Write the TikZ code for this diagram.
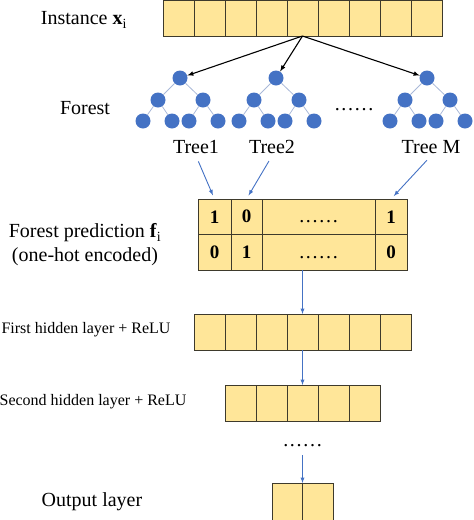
\documentclass[tikz,border=0pt]{standalone}
\usepackage{fontspec}
\setmainfont{Liberation Serif}
\usetikzlibrary{arrows, positioning, calc}

\definecolor{cellfill}{HTML}{FFE699}
\definecolor{cellline}{HTML}{3E3A2C}
\definecolor{treeblue}{HTML}{4472C4}
\definecolor{edgegray}{HTML}{A9B8D8}

\tikzset{
    cell/.style={draw=cellline, fill=cellfill, line width=1pt, minimum width=31pt, minimum height=36pt, inner sep=0pt, outer sep=0pt},
    tnode/.style={circle, fill=treeblue, minimum size=15pt, inner sep=0pt},
    tedge/.style={edgegray, line width=0.8pt},
    lab/.style={font=\fontsize{20}{24}\selectfont, inner sep=2pt},
    smalllab/.style={font=\fontsize{16}{19}\selectfont, inner sep=2pt},
    digit/.style={font=\fontsize{19}{22}\selectfont\bfseries},
    flow/.style={treeblue, line width=0.9pt, -latex},
    feed/.style={black, line width=1.1pt, -latex}
}

\newcommand{\spdots}{.\kern1.7pt.\kern1.7pt.\kern1.7pt.\kern1.7pt.\kern1.7pt.}

\newcommand{\foresttree}[2]{%
    \node[tnode] (#1r) at (#2,78) {};
    \node[tnode] (#1a) at (#2-22,100) {};
    \node[tnode] (#1b) at (#2+23,100) {};
    \node[tnode] (#1aa) at (#2-37,121) {};
    \node[tnode] (#1ab) at (#2-8,121) {};
    \node[tnode] (#1ba) at (#2+9,121) {};
    \node[tnode] (#1bb) at (#2+38,121) {};
    \draw[tedge] (#1r) -- (#1a) (#1r) -- (#1b) (#1a) -- (#1aa) (#1a) -- (#1ab) (#1b) -- (#1ba) (#1b) -- (#1bb);
}

\begin{document}
\begin{tikzpicture}[x=1pt, y=-1pt]
    \useasboundingbox (0,0) rectangle (474,520);

    \node[lab] (inlab) at (84,20) {Instance \textbf{x}\textsubscript{i}};
    \foreach \i in {1,...,9}
        \node[cell] (in\i) at ({163+31*\i-15.5},18) {};

    \node[lab] (forestlab) at (85,108) {Forest};
    \foresttree{ta}{180}
    \foresttree{tb}{276}
    \foresttree{tm}{427}
    \node[lab] (treedots) at (354,110) {\spdots};
    \node[lab] (tla) at (196,147) {Tree1};
    \node[lab] (tlb) at (272,147) {Tree2};
    \node[lab] (tlm) at (431,147) {Tree M};

    \draw[feed] (in5.south) -- (tar);
    \draw[feed] (in5.south) -- (tbr);
    \draw[feed] (in5.south) -- (tmr);

    \node[lab, align=center] (fplab) at (85,245) {Forest prediction \textbf{f}\textsubscript{i}\\(one-hot encoded)};
    \node[cell, minimum width=33pt, minimum height=35.5pt, digit] (fp11) at (214.5,216.75) {1};
    \node[cell, minimum height=35.5pt, digit] (fp12) at (246.5,216.75) {0};
    \node[cell, minimum width=113pt, minimum height=35.5pt, lab] (fp13) at (318.5,216.75) {\rule{0pt}{12pt}\spdots};
    \node[cell, minimum width=32pt, minimum height=35.5pt, digit] (fp14) at (391,216.75) {1};
    \node[cell, minimum width=33pt, minimum height=35.5pt, digit] (fp21) at (214.5,252.25) {0};
    \node[cell, minimum height=35.5pt, digit] (fp22) at (246.5,252.25) {1};
    \node[cell, minimum width=113pt, minimum height=35.5pt, lab] (fp23) at (318.5,252.25) {\rule{0pt}{12pt}\spdots};
    \node[cell, minimum width=32pt, minimum height=35.5pt, digit] (fp24) at (391,252.25) {0};

    \draw[flow, shorten <=6pt, shorten >=4pt] (tla.south) -- (fp11.north);
    \draw[flow, shorten <=6pt, shorten >=4pt] (tlb.south) -- (fp12.north);
    \draw[flow, shorten <=6pt, shorten >=4pt] (tlm.south) -- (fp14.north);

    \node[smalllab] (h1lab) at (86,330) {First hidden layer + ReLU};
    \foreach \i in {1,...,7}
        \node[cell] (h1\i) at ({194+31*\i-15.5},332) {};
    \node[smalllab] (h2lab) at (93,402) {Second hidden layer + ReLU};
    \foreach \i in {1,...,5}
        \node[cell] (h2\i) at ({225+31*\i-15.5},403) {};

    \draw[flow] (fp23.south -| h14) -- (h14.north);
    \draw[flow] (h14.south) -- (h23.north);

    \node[lab] (vdots) at (302.5,446) {\spdots};
    \node[lab] (outlab) at (92,502) {Output layer};
    \node[cell, minimum width=30.5pt, minimum height=40pt] (o1) at (287.25,503) {};
    \node[cell, minimum width=30.5pt, minimum height=40pt] (o2) at (317.75,503) {};
    \draw[flow, shorten <=6pt] (vdots.south) -- (o1.north east);
\end{tikzpicture}
\end{document}
